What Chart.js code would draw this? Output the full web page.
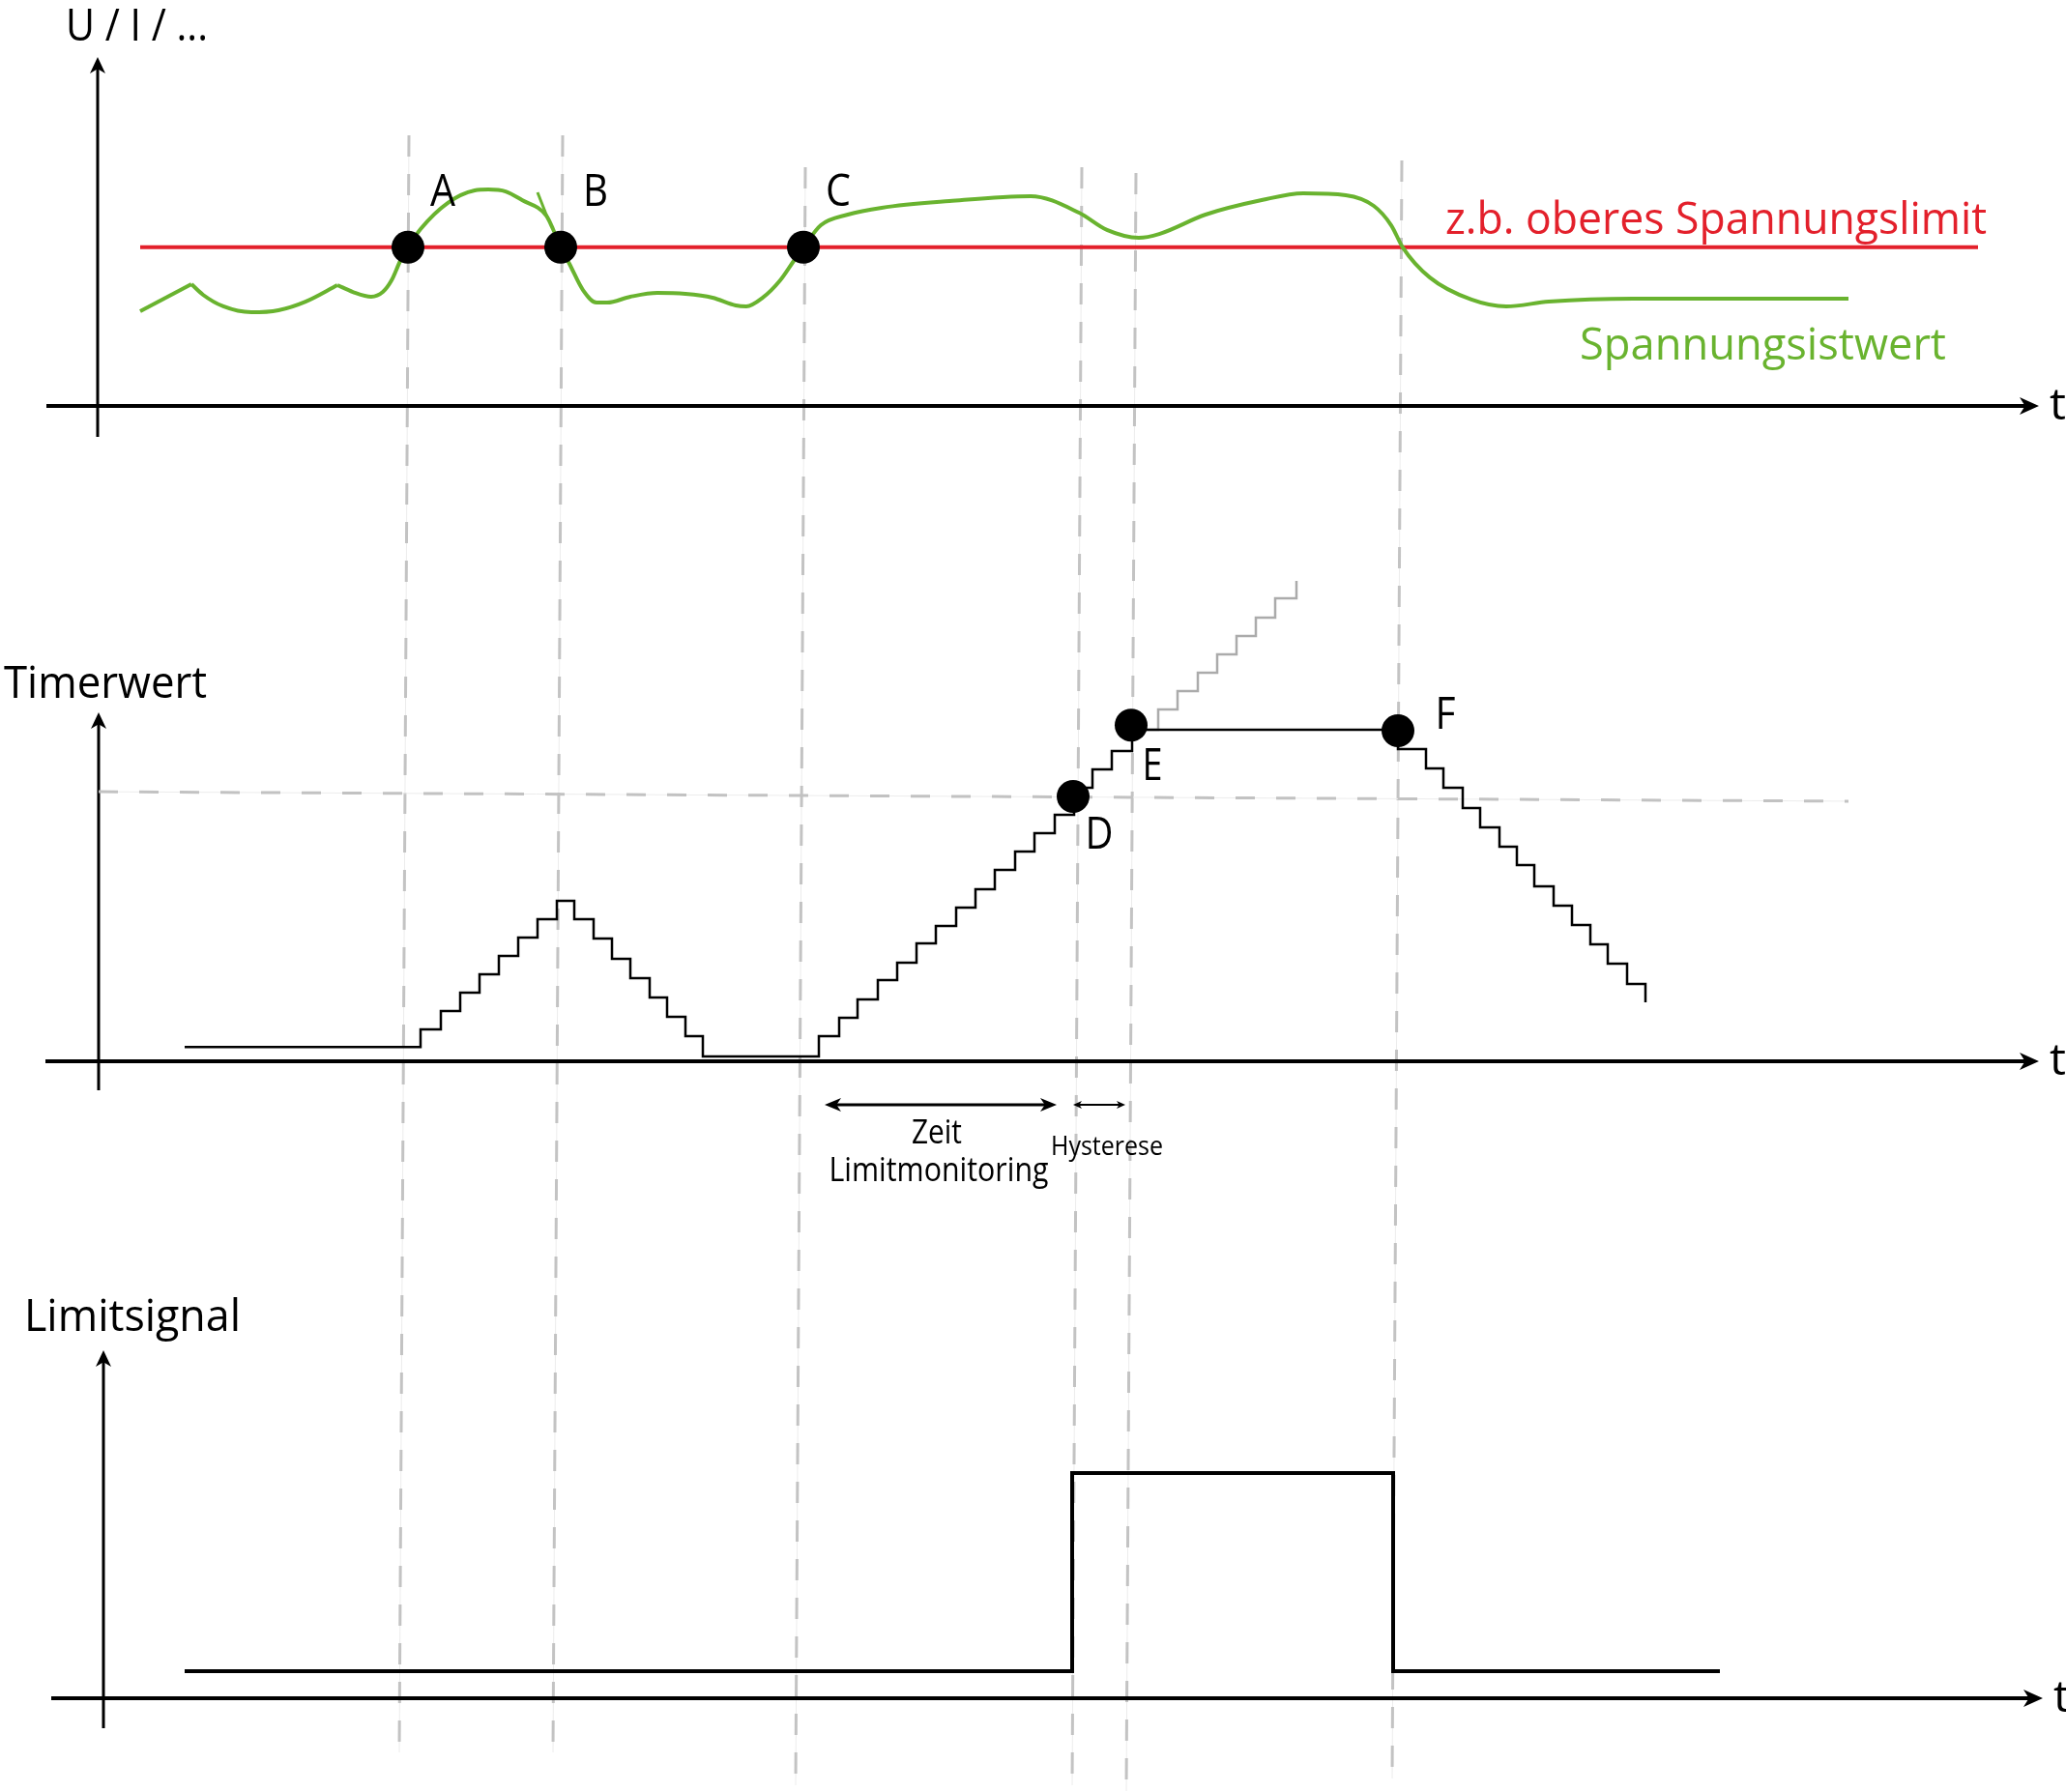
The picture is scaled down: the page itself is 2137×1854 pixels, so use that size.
<!DOCTYPE html>
<html lang="de">
<head>
<meta charset="utf-8">
<title>Limitmonitoring – Spannung, Timerwert, Limitsignal</title>
<script src="https://cdn.jsdelivr.net/npm/chart.js@4.4.1/dist/chart.umd.min.js"></script>
<style>
  html, body { margin: 0; padding: 0; background: #fff; }
  #skizze { display: block; }
</style>
</head>
<body>
<canvas id="skizze" width="2137" height="1854"></canvas>
<script>
// Zeit in Timer-Takten, Spannung in V (Limit = 10), Timer in Zählschritten, Signal 0/1

// Spannungsistwert (grüne Kurve)
const istwertZeit = [2.15, 4.8, 5.4, 6.45, 7.9, 9.3, 10.7, 12.35, 13.15, 14.1, 14.7, 15.15, 15.6, 16.0, 16.65,
  18.05, 19.45, 20.15, 21.05, 21.9, 23.15, 23.5, 23.9, 24.35, 25.05, 25.75, 26.3, 27.5, 28.9, 30.35, 31.75,
  32.95, 33.5, 34.35, 35.25, 35.95, 36.45, 37.35, 38.75, 40.5, 44.0, 48.2, 50.7, 52.15, 53.8, 54.85, 57.25,
  60.15, 62.3, 64.5, 65.95, 66.85, 67.45, 68.85, 71.0, 72.8, 75.0, 79.35, 90.5];
const istwertWert = [5.96, 7.67, 7.0, 6.27, 5.90, 6.03, 6.57, 7.61, 7.18, 6.88, 7.18, 7.91, 9.13, 9.98, 11.14,
  12.78, 13.57, 13.63, 13.51, 12.96, 11.99, 11.14, 9.98, 8.95, 7.30, 6.51, 6.51, 6.88, 7.12, 7.06, 6.82,
  6.33, 6.27, 6.82, 7.91, 9.13, 9.98, 11.38, 12.05, 12.48, 12.90, 13.21, 12.17, 11.08, 10.59, 10.83, 12.05,
  12.96, 13.39, 13.27, 12.60, 11.38, 9.98, 8.09, 6.70, 6.27, 6.57, 6.76, 6.76];
const istwertEcken = [1, 7]; // Knicke in der Handskizze
const hakenZeit = [22.7, 23.25];
const hakenWert = [13.45, 11.75];

// oberes Spannungslimit
const limitZeit = [2.15, 97.2];
const limitWert = [10, 10];

// Schnittpunkte A, B, C
const punkteObenName = ['A', 'B', 'C'];
const punkteObenZeit = [16.0, 23.9, 36.45];
const punkteObenWert = [10, 10, 10];

// Timerwert (Stufen: Zeitpunkt der Änderung, neuer Wert)
const timerZeit = [4.45, 16.65, 17.7, 18.7, 19.7, 20.7, 21.7, 22.7, 23.7, 24.6, 25.6, 26.55, 27.5, 28.5, 29.4,
  30.35, 31.25, 37.25, 38.3, 39.25, 40.3, 41.3, 42.3, 43.3, 44.35, 45.35, 46.35, 47.4, 48.4, 49.45, 50.45,
  51.4, 52.4, 53.45, 67.2, 68.65, 69.55, 70.55, 71.45, 72.45, 73.35, 74.25, 75.25, 76.2, 77.15, 78.05, 79.05, 80.0];
const timerWert = [0.78, 1.74, 2.74, 3.74, 4.74, 5.74, 6.74, 7.74, 8.74, 7.74, 6.68, 5.58, 4.53, 3.47, 2.42,
  1.37, 0.26, 1.37, 2.37, 3.37, 4.42, 5.37, 6.42, 7.37, 8.37, 9.37, 10.42, 11.42, 12.42, 13.42, 14.89,
  15.89, 16.89, 18.05, 17.0, 15.95, 14.89, 13.79, 12.74, 11.68, 10.68, 9.53, 8.47, 7.42, 6.37, 5.32, 4.21, 3.21];

// Timer ohne Hysterese-Stopp (grau)
const timerWeiterZeit = [53.45, 54.8, 55.8, 56.85, 57.85, 58.85, 59.85, 60.85, 61.95];
const timerWeiterWert = [18.05, 19.16, 20.16, 21.16, 22.16, 23.16, 24.16, 25.21, 26.16];

// Schwelle Timer (gestrichelt)
const schwelleZeit = [0, 90.5];
const schwelleWert = [14.68, 14.16];

// Punkte D, E, F
const punkteMitteName = ['D', 'E', 'F'];
const punkteMitteZeit = [50.4, 53.4, 67.2];
const punkteMitteWert = [14.42, 18.3, 18.0];

// Zeitspannen der Maßpfeile
const zeitLimitmonitoring = [37.55, 49.55];
const zeitHysterese = [50.4, 53.1];

// Limitsignal
const signalZeit = [4.45, 50.35, 66.95, 83.85];
const signalWert = [0, 1, 0, 0];

// senkrechte Hilfslinien (Zeitpunkt oben)
const hilfslinienZeit = [16.05, 24.0, 36.55, 50.85, 53.65, 67.4];

// ---- Layout ----
const BREITE = 2137, HOEHE = 1854;
const xNull = 102, pxProTakt = 20;
const felder = {
  yU: { nullLinie: 420, pxProEinheit: 16.43 },
  yT: { nullLinie: 1098, pxProEinheit: 19 },
  yS: { nullLinie: 1729, pxProEinheit: 205 }
};
const achsen = [
  { id: 'yU', xAchseBei: 0, von: -2.7, bis: 100.35, yAchseBei: -0.05, yVon: -1.95, yBis: 21.97 },
  { id: 'yT', xAchseBei: 0, von: -2.75, bis: 100.35, yAchseBei: 0, yVon: -1.58, yBis: 19.0 },
  { id: 'yS', xAchseBei: -0.137, von: -2.45, bis: 100.55, yAchseBei: 0.25, yVon: -0.288, yBis: 1.62 }
];
const hilfslinienSpanne = [[140, 1813], [140, 1813], [173, 1847], [173, 1847], [179, 1853], [166, 1840]];
const hilfslinienDrift = 10;

const ROT = '#e3202b';
const GRUEN = '#69b32f';
const SCHRIFT = '"Open Sans", "Noto Sans", sans-serif';

function bereich(f) {
  return { min: (f.nullLinie - HOEHE) / f.pxProEinheit, max: f.nullLinie / f.pxProEinheit };
}
function punkte(zeit, wert) {
  return zeit.map((t, i) => ({ x: t, y: wert[i] }));
}

function pfeilspitze(ctx, x, y, dx, dy, len, halb) {
  const nx = -dy, ny = dx;
  ctx.beginPath();
  ctx.moveTo(x, y);
  ctx.lineTo(x - dx * len + nx * halb, y - dy * len + ny * halb);
  ctx.lineTo(x - dx * len * 0.72, y - dy * len * 0.72);
  ctx.lineTo(x - dx * len - nx * halb, y - dy * len - ny * halb);
  ctx.closePath();
  ctx.fill();
}

function schreibe(ctx, text, x, y, o) {
  ctx.save();
  ctx.font = (o.size || 45) + 'px ' + SCHRIFT;
  ctx.fillStyle = o.color || '#000';
  ctx.textBaseline = 'alphabetic';
  ctx.textAlign = 'left';
  const w = ctx.measureText(text).width;
  const f = o.width ? o.width / w : 0.88;
  const b = w * f;
  let links = x;
  if (o.align === 'center') links = x - b / 2;
  else if (o.align === 'right') links = x - b;
  ctx.translate(links, y);
  ctx.scale(f, 1);
  ctx.fillText(text, 0, 0);
  ctx.restore();
}

const skizzePlugin = {
  id: 'skizze',
  beforeDatasetsDraw(chart) {
    const ctx = chart.ctx;
    const xs = chart.scales.x;

    // Hilfslinien
    hilfslinienZeit.forEach((t, i) => {
      const [oben, unten] = hilfslinienSpanne[i];
      const xo = xs.getPixelForValue(t);
      const xu = xo - hilfslinienDrift;
      ctx.save();
      ctx.strokeStyle = '#ececec';
      ctx.lineWidth = 1;
      ctx.beginPath(); ctx.moveTo(xo, oben); ctx.lineTo(xu, unten); ctx.stroke();
      ctx.strokeStyle = '#c3c3c3';
      ctx.lineWidth = 3;
      ctx.setLineDash([22, 18]);
      ctx.beginPath(); ctx.moveTo(xo, oben); ctx.lineTo(xu, unten); ctx.stroke();
      ctx.restore();
    });

    // Achsen mit Pfeilen
    achsen.forEach(a => {
      const ys = chart.scales[a.id];
      const y0 = ys.getPixelForValue(a.xAchseBei);
      const x1 = xs.getPixelForValue(a.von), x2 = xs.getPixelForValue(a.bis);
      const xa = xs.getPixelForValue(a.yAchseBei);
      const yo = ys.getPixelForValue(a.yBis), yu = ys.getPixelForValue(a.yVon);
      ctx.save();
      ctx.strokeStyle = '#000';
      ctx.fillStyle = '#000';
      ctx.lineWidth = 4;
      ctx.beginPath(); ctx.moveTo(x1, y0); ctx.lineTo(x2 - 8, y0); ctx.stroke();
      pfeilspitze(ctx, x2, y0, 1, 0, 20, 9);
      ctx.lineWidth = 3;
      ctx.beginPath(); ctx.moveTo(xa, yu); ctx.lineTo(xa, yo + 8); ctx.stroke();
      pfeilspitze(ctx, xa, yo, 0, -1, 17, 8);
      ctx.restore();
      schreibe(ctx, 't', x2 + 11, y0 + 14, { size: 45, width: 17 });
    });
  },
  afterDatasetsDraw(chart) {
    const ctx = chart.ctx;
    const xs = chart.scales.x, yU = chart.scales.yU, yT = chart.scales.yT, yS = chart.scales.yS;
    const px = t => xs.getPixelForValue(t);

    // Achsentitel
    schreibe(ctx, 'U / I / ...', px(0) - 34, yU.getPixelForValue(achsen[0].yBis) - 17, { width: 147 });
    schreibe(ctx, 'Timerwert', px(0) - 98, yT.getPixelForValue(achsen[1].yBis) - 15, { width: 210 });
    schreibe(ctx, 'Limitsignal', px(0) - 77, yS.getPixelForValue(achsen[2].yBis) - 20, { width: 224 });

    // Punktnamen
    punkteObenName.forEach((n, i) => {
      schreibe(ctx, n, px(punkteObenZeit[i]) + 36, yU.getPixelForValue(punkteObenWert[i]) - 43, { align: 'center', width: 26 });
    });
    const versatz = [[27, 54], [22, 57], [49, -2]];
    punkteMitteName.forEach((n, i) => {
      schreibe(ctx, n, px(punkteMitteZeit[i]) + versatz[i][0], yT.getPixelForValue(punkteMitteWert[i]) + versatz[i][1],
        { align: 'center', width: n === 'D' ? 29 : 21 });
    });

    // Kurvenbeschriftungen
    const limitY = yU.getPixelForValue(limitWert[1]);
    schreibe(ctx, 'z.b. oberes Spannungslimit', px(limitZeit[1]) + 9, limitY - 14, { align: 'right', width: 560, color: ROT });
    const n = istwertZeit.length - 1;
    schreibe(ctx, 'Spannungsistwert', px(istwertZeit[n]) + 101, yU.getPixelForValue(istwertWert[n]) + 63,
      { align: 'right', width: 379, color: GRUEN });

    // Maßpfeile
    const yPfeil = yT.getPixelForValue(-2.37);
    ctx.save();
    ctx.strokeStyle = '#000';
    ctx.fillStyle = '#000';
    const a1 = px(zeitLimitmonitoring[0]), a2 = px(zeitLimitmonitoring[1]);
    ctx.lineWidth = 3;
    ctx.beginPath(); ctx.moveTo(a1 + 8, yPfeil); ctx.lineTo(a2 - 8, yPfeil); ctx.stroke();
    pfeilspitze(ctx, a2, yPfeil, 1, 0, 17, 7);
    pfeilspitze(ctx, a1, yPfeil, -1, 0, 17, 7);
    const h1 = px(zeitHysterese[0]), h2 = px(zeitHysterese[1]);
    ctx.lineWidth = 2;
    ctx.beginPath(); ctx.moveTo(h1 + 5, yPfeil); ctx.lineTo(h2 - 5, yPfeil); ctx.stroke();
    pfeilspitze(ctx, h2, yPfeil, 1, 0, 9, 4);
    pfeilspitze(ctx, h1, yPfeil, -1, 0, 9, 4);
    ctx.restore();
    const mitte = (a1 + a2) / 2;
    schreibe(ctx, 'Zeit', mitte - 4, yPfeil + 40, { size: 34, align: 'center', width: 52 });
    schreibe(ctx, 'Limitmonitoring', mitte - 2, yPfeil + 79, { size: 34, align: 'center', width: 227 });
    schreibe(ctx, 'Hysterese', (h1 + h2) / 2 + 8, yPfeil + 52, { size: 28, align: 'center', width: 116 });
  }
};

// grüne Kurve an den Knicken aufteilen
const grenzen = [0, ...istwertEcken, istwertZeit.length - 1];
const istwertTeile = [];
for (let i = 0; i < grenzen.length - 1; i++) {
  istwertTeile.push({
    data: punkte(istwertZeit.slice(grenzen[i], grenzen[i + 1] + 1), istwertWert.slice(grenzen[i], grenzen[i + 1] + 1)),
    yAxisID: 'yU',
    borderColor: GRUEN,
    borderWidth: 4,
    cubicInterpolationMode: i === 0 ? 'default' : 'monotone',
    tension: i === 0 ? 0 : 0.4,
    order: 2
  });
}

const punktStil = {
  showLine: false,
  pointRadius: 17,
  pointHoverRadius: 17,
  pointBackgroundColor: '#000',
  pointBorderWidth: 0,
  order: 0
};

const ctx = document.getElementById('skizze').getContext('2d');
const skizze = new Chart(ctx, {
  type: 'line',
  data: {
    datasets: [
      { ...punktStil, data: punkte(punkteObenZeit, punkteObenWert), yAxisID: 'yU' },
      { ...punktStil, data: punkte(punkteMitteZeit, punkteMitteWert), yAxisID: 'yT' },
      ...istwertTeile,
      { data: punkte(hakenZeit, hakenWert), yAxisID: 'yU', borderColor: GRUEN, borderWidth: 3, order: 2 },
      { data: punkte(limitZeit, limitWert), yAxisID: 'yU', borderColor: ROT, borderWidth: 4, order: 3 },
      { data: punkte(timerZeit, timerWert), yAxisID: 'yT', borderColor: '#000', borderWidth: 2.5, stepped: true, order: 1 },
      { data: punkte(timerWeiterZeit, timerWeiterWert), yAxisID: 'yT', borderColor: '#ababab', borderWidth: 2.5, stepped: true, order: 4 },
      { data: punkte(schwelleZeit, schwelleWert), yAxisID: 'yT', borderColor: '#ececec', borderWidth: 1, order: 6 },
      { data: punkte(schwelleZeit, schwelleWert), yAxisID: 'yT', borderColor: '#c2c2c2', borderWidth: 3, borderDash: [20, 22], order: 5 },
      { data: punkte(signalZeit, signalWert), yAxisID: 'yS', borderColor: '#000', borderWidth: 4, stepped: true, order: 1 }
    ]
  },
  options: {
    responsive: false,
    animation: false,
    devicePixelRatio: 1,
    layout: { padding: 0, autoPadding: false },
    elements: {
      point: { radius: 0, hoverRadius: 0 },
      line: { fill: false, borderCapStyle: 'butt', borderJoinStyle: 'miter' }
    },
    plugins: { legend: { display: false }, tooltip: { enabled: false } },
    scales: {
      x: { type: 'linear', min: -xNull / pxProTakt, max: (BREITE - xNull) / pxProTakt, display: false },
      y: { display: false },
      yU: { type: 'linear', ...bereich(felder.yU), display: false },
      yT: { type: 'linear', ...bereich(felder.yT), display: false },
      yS: { type: 'linear', ...bereich(felder.yS), display: false }
    }
  },
  plugins: [skizzePlugin]
});
</script>
</body>
</html>
